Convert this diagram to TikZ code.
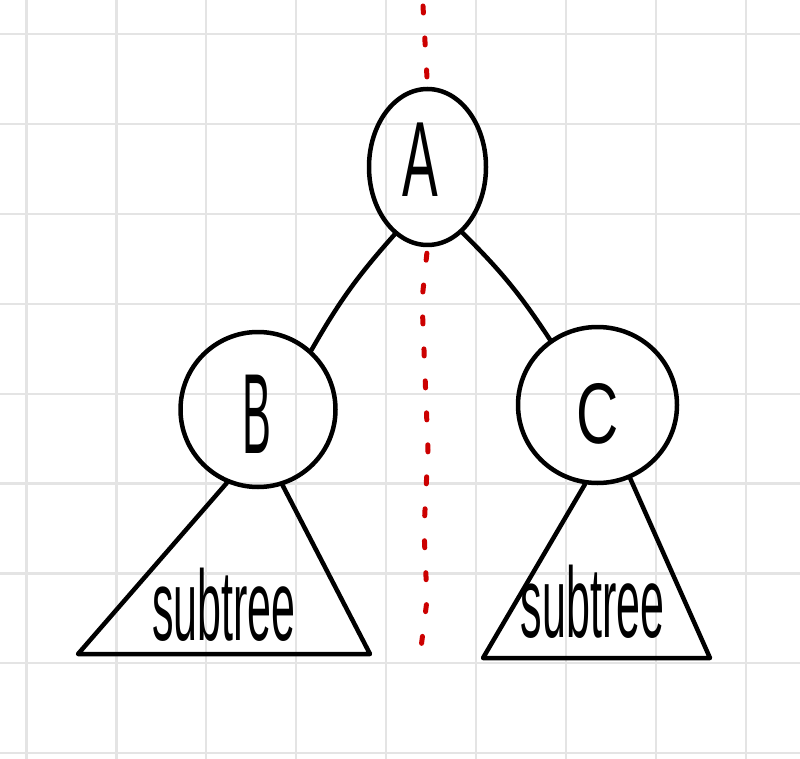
\documentclass[tikz,border=0pt]{standalone}
\usepackage{fontspec}
\setmainfont{Liberation Sans}
\usetikzlibrary{shapes.geometric}
\definecolor{gridgray}{RGB}{228,228,228}
\definecolor{penred}{RGB}{204,0,0}
\begin{document}
\begin{tikzpicture}[x=1pt,y=-1pt,
  gridline/.style={draw=gridgray,line width=2.2pt},
  ink/.style={draw=black,line width=4.5pt,line cap=round,line join=round},
  nodeell/.style={ellipse,ink,inner sep=0pt},
  nodecirc/.style={circle,ink,inner sep=0pt},
  reddots/.style={draw=penred,line width=5pt,line cap=round,dash pattern=on 7pt off 25pt},
  letter/.style={inner sep=0pt,anchor=base}]
\useasboundingbox (0,0) rectangle (800,759);
\fill[white] (0,0) rectangle (800,759);
% grid
\foreach \k in {0,...,8}{
  \draw[gridline] ({26.5+89.9*\k},0) -- ({26.5+89.9*\k},759);
  \draw[gridline] (0,{34.3+89.85*\k}) -- (800,{34.3+89.85*\k});
}
% nodes
\node[nodeell,minimum width=117pt,minimum height=156pt] (A) at (427.5,167) {};
\node[nodecirc,minimum size=155pt] (B) at (258,409.5) {};
\node[nodeell,minimum width=159pt,minimum height=156pt] (C) at (597.5,405) {};
% labels
\node[letter] (At) at (420,197) {\fontsize{107}{107}\selectfont\scalebox{0.5}[1]{A}};
\node[letter] (Bt) at (257,453) {\fontsize{114}{114}\selectfont\scalebox{0.38}[1]{B}};
\node[letter] (Ct) at (598,443) {\fontsize{86}{86}\selectfont\scalebox{0.68}[1]{C}};
\node[letter] (Lt) at (224,640) {\fontsize{100}{100}\selectfont\scalebox{0.43}[1]{subtree}};
\node[letter] (Rt) at (592.5,637) {\fontsize{100}{100}\selectfont\scalebox{0.43}[1]{subtree}};
% red dotted axis
\coordinate (r0) at (423,6);
\coordinate (r1) at (422,300);
\coordinate (r2) at (428,450);
\coordinate (r3) at (424,530);
\coordinate (r4) at (427,600);
\coordinate (r5) at (419,664);
\draw[reddots] (r0) -- (A.north);
\draw[reddots,dash phase=-6pt] (A.south) -- (r1) -- (r2) -- (r3) -- (r4) -- (r5);
% edges
\draw[ink] (A.-116) to[bend right=6] (B.48);
\draw[ink] (A.-62) to[bend left=6] (C.126);
% subtrees
\coordinate (bl) at (78,654);
\coordinate (br) at (370,654);
\coordinate (cl) at (483,658);
\coordinate (cr) at (710,658);
\draw[ink] (B.-113) -- (bl) -- (br) -- (B.-72);
\draw[ink] (C.-99) -- (cl) -- (cr) -- (C.-66);
\end{tikzpicture}
\end{document}
